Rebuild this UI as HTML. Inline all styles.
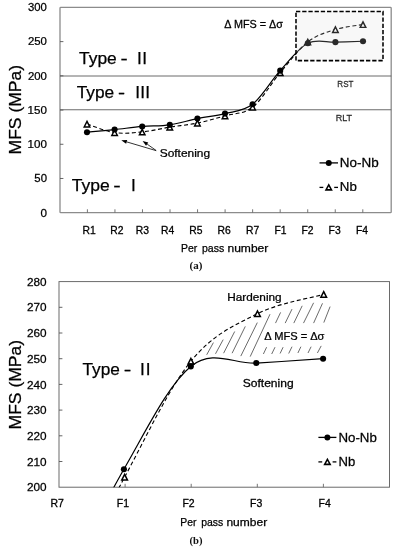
<!DOCTYPE html>
<html><head><meta charset="utf-8"><title>MFS per pass</title>
<style>html,body{margin:0;padding:0;background:#fff}svg{display:block}</style></head>
<body>
<svg width="394" height="550" viewBox="0 0 394 550">
<rect width="394" height="550" fill="#fff"/>
<rect x="60.00" y="7.40" width="331.20" height="205.30" rx="0.8" fill="none" stroke="#8c8c8c" stroke-width="1.3"/>
<line x1="60.00" y1="178.48" x2="63.40" y2="178.48" stroke="#555" stroke-width="0.9"/>
<line x1="60.00" y1="144.27" x2="63.40" y2="144.27" stroke="#555" stroke-width="0.9"/>
<line x1="60.00" y1="110.05" x2="63.40" y2="110.05" stroke="#555" stroke-width="0.9"/>
<line x1="60.00" y1="75.83" x2="63.40" y2="75.83" stroke="#555" stroke-width="0.9"/>
<line x1="60.00" y1="41.62" x2="63.40" y2="41.62" stroke="#555" stroke-width="0.9"/>
<line x1="87.40" y1="212.70" x2="87.40" y2="209.30" stroke="#666" stroke-width="0.9"/>
<line x1="114.94" y1="212.70" x2="114.94" y2="209.30" stroke="#666" stroke-width="0.9"/>
<line x1="142.48" y1="212.70" x2="142.48" y2="209.30" stroke="#666" stroke-width="0.9"/>
<line x1="170.02" y1="212.70" x2="170.02" y2="209.30" stroke="#666" stroke-width="0.9"/>
<line x1="197.56" y1="212.70" x2="197.56" y2="209.30" stroke="#666" stroke-width="0.9"/>
<line x1="225.10" y1="212.70" x2="225.10" y2="209.30" stroke="#666" stroke-width="0.9"/>
<line x1="252.64" y1="212.70" x2="252.64" y2="209.30" stroke="#666" stroke-width="0.9"/>
<line x1="280.18" y1="212.70" x2="280.18" y2="209.30" stroke="#666" stroke-width="0.9"/>
<line x1="307.72" y1="212.70" x2="307.72" y2="209.30" stroke="#666" stroke-width="0.9"/>
<line x1="335.26" y1="212.70" x2="335.26" y2="209.30" stroke="#666" stroke-width="0.9"/>
<line x1="362.80" y1="212.70" x2="362.80" y2="209.30" stroke="#666" stroke-width="0.9"/>
<text transform="translate(40.43 216.50) scale(1.0802 1)" font-family='"Liberation Sans", sans-serif' font-size="10.80" font-weight="normal" fill="#000" stroke="#000" stroke-width="0.25">0</text>
<text transform="translate(34.35 182.28) scale(1.0518 1)" font-family='"Liberation Sans", sans-serif' font-size="10.80" font-weight="normal" fill="#000" stroke="#000" stroke-width="0.25">50</text>
<text transform="translate(27.57 148.07) scale(1.0753 1)" font-family='"Liberation Sans", sans-serif' font-size="10.80" font-weight="normal" fill="#000" stroke="#000" stroke-width="0.25">100</text>
<text transform="translate(27.57 113.85) scale(1.0753 1)" font-family='"Liberation Sans", sans-serif' font-size="10.80" font-weight="normal" fill="#000" stroke="#000" stroke-width="0.25">150</text>
<text transform="translate(27.93 79.63) scale(1.0549 1)" font-family='"Liberation Sans", sans-serif' font-size="10.80" font-weight="normal" fill="#000" stroke="#000" stroke-width="0.25">200</text>
<text transform="translate(27.93 45.42) scale(1.0549 1)" font-family='"Liberation Sans", sans-serif' font-size="10.80" font-weight="normal" fill="#000" stroke="#000" stroke-width="0.25">250</text>
<text transform="translate(28.05 11.20) scale(1.0482 1)" font-family='"Liberation Sans", sans-serif' font-size="10.80" font-weight="normal" fill="#000" stroke="#000" stroke-width="0.25">300</text>
<text transform="translate(82.42 234.20) scale(0.9762 1)" font-family='"Liberation Sans", sans-serif' font-size="10.60" font-weight="normal" fill="#000" stroke="#000" stroke-width="0.30">R1</text>
<text transform="translate(110.22 234.20) scale(0.9762 1)" font-family='"Liberation Sans", sans-serif' font-size="10.60" font-weight="normal" fill="#000" stroke="#000" stroke-width="0.30">R2</text>
<text transform="translate(135.72 234.20) scale(0.9762 1)" font-family='"Liberation Sans", sans-serif' font-size="10.60" font-weight="normal" fill="#000" stroke="#000" stroke-width="0.30">R3</text>
<text transform="translate(161.12 234.20) scale(0.9762 1)" font-family='"Liberation Sans", sans-serif' font-size="10.60" font-weight="normal" fill="#000" stroke="#000" stroke-width="0.30">R4</text>
<text transform="translate(189.17 234.20) scale(0.9762 1)" font-family='"Liberation Sans", sans-serif' font-size="10.60" font-weight="normal" fill="#000" stroke="#000" stroke-width="0.30">R5</text>
<text transform="translate(217.62 234.20) scale(0.9762 1)" font-family='"Liberation Sans", sans-serif' font-size="10.60" font-weight="normal" fill="#000" stroke="#000" stroke-width="0.30">R6</text>
<text transform="translate(246.12 234.20) scale(0.9762 1)" font-family='"Liberation Sans", sans-serif' font-size="10.60" font-weight="normal" fill="#000" stroke="#000" stroke-width="0.30">R7</text>
<text transform="translate(274.39 234.20) scale(0.9762 1)" font-family='"Liberation Sans", sans-serif' font-size="10.60" font-weight="normal" fill="#000" stroke="#000" stroke-width="0.30">F1</text>
<text transform="translate(301.39 234.20) scale(0.9762 1)" font-family='"Liberation Sans", sans-serif' font-size="10.60" font-weight="normal" fill="#000" stroke="#000" stroke-width="0.30">F2</text>
<text transform="translate(328.59 234.20) scale(0.9762 1)" font-family='"Liberation Sans", sans-serif' font-size="10.60" font-weight="normal" fill="#000" stroke="#000" stroke-width="0.30">F3</text>
<text transform="translate(355.89 234.20) scale(0.9762 1)" font-family='"Liberation Sans", sans-serif' font-size="10.60" font-weight="normal" fill="#000" stroke="#000" stroke-width="0.30">F4</text>
<line x1="60.00" y1="76.00" x2="391.20" y2="76.00" stroke="#5a5a5a" stroke-width="0.9"/>
<line x1="60.00" y1="109.75" x2="391.20" y2="109.75" stroke="#5a5a5a" stroke-width="0.9"/>
<g transform="translate(20.5 153) rotate(-90)">
<text transform="translate(-1.40 0.00) scale(1.0119 1)" font-family='"Liberation Sans", sans-serif' font-size="17.30" font-weight="normal" fill="#000" stroke="#000" stroke-width="0.25">MFS (MPa)</text>
</g>
<text y="63.50" font-family='"Liberation Sans", sans-serif' font-size="17.30" fill="#000" stroke="#000" stroke-width="0.25"><tspan x="79.05" textLength="37.68" lengthAdjust="spacingAndGlyphs">Type</tspan> <tspan x="120.44" textLength="7.19" lengthAdjust="spacingAndGlyphs">-</tspan> <tspan x="136.94" letter-spacing="0.60">II</tspan></text>
<text y="98.00" font-family='"Liberation Sans", sans-serif' font-size="17.30" fill="#000" stroke="#000" stroke-width="0.25"><tspan x="76.65" textLength="37.48" lengthAdjust="spacingAndGlyphs">Type</tspan> <tspan x="117.95" textLength="7.06" lengthAdjust="spacingAndGlyphs">-</tspan> <tspan x="135.14" letter-spacing="0.23">III</tspan></text>
<text y="190.80" font-family='"Liberation Sans", sans-serif' font-size="17.30" fill="#000" stroke="#000" stroke-width="0.25"><tspan x="71.75" textLength="37.99" lengthAdjust="spacingAndGlyphs">Type</tspan> <tspan x="113.20" textLength="7.46" lengthAdjust="spacingAndGlyphs">-</tspan> <tspan x="130.94" letter-spacing="0.00">I</tspan></text>
<path d="M87.00 124.08 C91.60 125.50 105.40 131.32 114.60 132.63 C123.80 133.94 133.00 132.86 142.20 131.95 C151.40 131.04 160.60 128.64 169.80 127.16 C179.00 125.68 188.20 124.95 197.40 123.05 C206.60 121.16 215.80 118.44 225.00 115.80 C234.20 113.15 243.40 114.36 252.60 107.18 C261.80 99.99 271.00 83.57 280.20 72.69 C289.40 61.80 298.60 49.08 307.80 41.89 C317.00 34.70 326.20 32.47 335.40 29.57 C344.60 26.68 358.40 25.35 363.00 24.51" fill="none" stroke="#000" stroke-width="1.1" stroke-dasharray="4 2.6"/>
<path d="M87.00 121.43 L89.80 126.93 L84.20 126.93 Z" fill="#fff" stroke="#000" stroke-width="1.45" stroke-linejoin="miter"/>
<path d="M114.60 129.98 L117.40 135.48 L111.80 135.48 Z" fill="#fff" stroke="#000" stroke-width="1.45" stroke-linejoin="miter"/>
<path d="M142.20 129.30 L145.00 134.80 L139.40 134.80 Z" fill="#fff" stroke="#000" stroke-width="1.45" stroke-linejoin="miter"/>
<path d="M169.80 124.51 L172.60 130.01 L167.00 130.01 Z" fill="#fff" stroke="#000" stroke-width="1.45" stroke-linejoin="miter"/>
<path d="M197.40 120.40 L200.20 125.90 L194.60 125.90 Z" fill="#fff" stroke="#000" stroke-width="1.45" stroke-linejoin="miter"/>
<path d="M225.00 113.15 L227.80 118.65 L222.20 118.65 Z" fill="#fff" stroke="#000" stroke-width="1.45" stroke-linejoin="miter"/>
<path d="M252.60 104.53 L255.40 110.03 L249.80 110.03 Z" fill="#fff" stroke="#000" stroke-width="1.45" stroke-linejoin="miter"/>
<path d="M280.20 70.04 L283.00 75.54 L277.40 75.54 Z" fill="#fff" stroke="#000" stroke-width="1.45" stroke-linejoin="miter"/>
<path d="M307.80 39.24 L310.60 44.74 L305.00 44.74 Z" fill="#fff" stroke="#000" stroke-width="1.45" stroke-linejoin="miter"/>
<path d="M335.40 26.92 L338.20 32.42 L332.60 32.42 Z" fill="#fff" stroke="#000" stroke-width="1.45" stroke-linejoin="miter"/>
<path d="M363.00 21.86 L365.80 27.36 L360.20 27.36 Z" fill="#fff" stroke="#000" stroke-width="1.45" stroke-linejoin="miter"/>
<path d="M87.00 132.22 C91.60 131.78 105.40 130.51 114.60 129.55 C123.80 128.60 133.00 127.26 142.20 126.47 C151.40 125.69 160.60 126.14 169.80 124.83 C179.00 123.52 188.20 120.47 197.40 118.60 C206.60 116.73 215.80 116.00 225.00 113.61 C234.20 111.21 243.40 111.40 252.60 104.23 C261.80 97.07 271.00 80.79 280.20 70.63 C289.40 60.47 298.60 48.00 307.80 43.26 C317.00 38.51 326.20 42.49 335.40 42.16 C344.60 41.83 358.40 41.42 363.00 41.27" fill="none" stroke="#000" stroke-width="1.2"/>
<circle cx="87.00" cy="132.22" r="3.05" fill="#000"/>
<circle cx="114.60" cy="129.55" r="3.05" fill="#000"/>
<circle cx="142.20" cy="126.47" r="3.05" fill="#000"/>
<circle cx="169.80" cy="124.83" r="3.05" fill="#000"/>
<circle cx="197.40" cy="118.60" r="3.05" fill="#000"/>
<circle cx="225.00" cy="113.61" r="3.05" fill="#000"/>
<circle cx="252.60" cy="104.23" r="3.05" fill="#000"/>
<circle cx="280.20" cy="70.63" r="3.05" fill="#000"/>
<circle cx="307.80" cy="43.26" r="3.05" fill="#000"/>
<circle cx="335.40" cy="42.16" r="3.05" fill="#000"/>
<circle cx="363.00" cy="41.27" r="3.05" fill="#000"/>
<rect x="296.0" y="11.5" width="87.0" height="49.1" fill="rgba(216,216,216,0.19)" stroke="#000" stroke-width="1.55" stroke-dasharray="4.3 1.9"/>
<text transform="translate(224.28 27.90) scale(1.0206 1)" font-family='"Liberation Sans", sans-serif' font-size="10.60" font-weight="normal" fill="#000" stroke="#000" stroke-width="0.25">&#916; MFS = &#916;&#963;</text>
<text transform="translate(337.36 86.60) scale(0.8567 1)" font-family='"Liberation Sans", sans-serif' font-size="9.40" font-weight="normal" fill="#2a2a2a" stroke="#2a2a2a" stroke-width="0.25">RST</text>
<text transform="translate(335.78 121.40) scale(0.9581 1)" font-family='"Liberation Sans", sans-serif' font-size="9.40" font-weight="normal" fill="#2a2a2a" stroke="#2a2a2a" stroke-width="0.25">RLT</text>
<text transform="translate(159.70 157.40) scale(1.1062 1)" font-family='"Liberation Sans", sans-serif' font-size="10.80" font-weight="normal" fill="#000" stroke="#000" stroke-width="0.25">Softening</text>
<line x1="156.00" y1="150.60" x2="126.67" y2="141.89" stroke="#000" stroke-width="0.80"/>
<path d="M121.30 140.30 L127.21 140.07 L126.13 143.71 Z" fill="#000"/>
<line x1="156.30" y1="150.60" x2="147.17" y2="144.14" stroke="#000" stroke-width="0.80"/>
<path d="M142.60 140.90 L148.27 142.59 L146.07 145.69 Z" fill="#000"/>
<line x1="319.50" y1="162.90" x2="338.00" y2="162.90" stroke="#000" stroke-width="1.3"/>
<circle cx="328.75" cy="162.90" r="3.00" fill="#000"/>
<line x1="319.50" y1="187.40" x2="323.30" y2="187.40" stroke="#000" stroke-width="1.3"/>
<line x1="334.20" y1="187.40" x2="338.00" y2="187.40" stroke="#000" stroke-width="1.3"/>
<path d="M328.75 184.95 L331.50 189.85 L326.00 189.85 Z" fill="#fff" stroke="#000" stroke-width="1.55" stroke-linejoin="miter"/>
<text transform="translate(339.82 167.00) scale(1.0520 1)" font-family='"Liberation Sans", sans-serif' font-size="12.80" font-weight="normal" fill="#000" stroke="#000" stroke-width="0.25">No-Nb</text>
<text transform="translate(339.84 191.00) scale(1.0372 1)" font-family='"Liberation Sans", sans-serif' font-size="12.80" font-weight="normal" fill="#000" stroke="#000" stroke-width="0.25">Nb</text>
<text transform="translate(189.56 269.40) scale(1.0395 1)" font-family='"Liberation Serif", serif' font-size="10.60" font-weight="bold" fill="#111">(a)</text>
<text y="252.00" font-family='"Liberation Sans", sans-serif' font-size="10.90" fill="#000" stroke="#000" stroke-width="0.25"><tspan x="180.97" textLength="16.20" lengthAdjust="spacingAndGlyphs">Per</tspan> <tspan x="201.96" textLength="22.28" lengthAdjust="spacingAndGlyphs">pass</tspan> <tspan x="227.46" textLength="40.89" lengthAdjust="spacingAndGlyphs">number</tspan></text>
<rect x="59.00" y="281.60" width="330.50" height="205.60" fill="none" stroke="#636363" stroke-width="0.95"/>
<line x1="59.00" y1="461.50" x2="62.40" y2="461.50" stroke="#555" stroke-width="0.9"/>
<line x1="59.00" y1="435.80" x2="62.40" y2="435.80" stroke="#555" stroke-width="0.9"/>
<line x1="59.00" y1="410.10" x2="62.40" y2="410.10" stroke="#555" stroke-width="0.9"/>
<line x1="59.00" y1="384.40" x2="62.40" y2="384.40" stroke="#555" stroke-width="0.9"/>
<line x1="59.00" y1="358.70" x2="62.40" y2="358.70" stroke="#555" stroke-width="0.9"/>
<line x1="59.00" y1="333.00" x2="62.40" y2="333.00" stroke="#555" stroke-width="0.9"/>
<line x1="59.00" y1="307.30" x2="62.40" y2="307.30" stroke="#555" stroke-width="0.9"/>
<line x1="125.10" y1="487.20" x2="125.10" y2="483.80" stroke="#666" stroke-width="0.9"/>
<line x1="191.20" y1="487.20" x2="191.20" y2="483.80" stroke="#666" stroke-width="0.9"/>
<line x1="257.30" y1="487.20" x2="257.30" y2="483.80" stroke="#666" stroke-width="0.9"/>
<line x1="323.40" y1="487.20" x2="323.40" y2="483.80" stroke="#666" stroke-width="0.9"/>
<text transform="translate(26.91 491.30) scale(1.0900 1)" font-family='"Liberation Sans", sans-serif' font-size="10.80" font-weight="normal" fill="#000" stroke="#000" stroke-width="0.25">200</text>
<text transform="translate(26.91 465.60) scale(1.0900 1)" font-family='"Liberation Sans", sans-serif' font-size="10.80" font-weight="normal" fill="#000" stroke="#000" stroke-width="0.25">210</text>
<text transform="translate(26.91 439.90) scale(1.0900 1)" font-family='"Liberation Sans", sans-serif' font-size="10.80" font-weight="normal" fill="#000" stroke="#000" stroke-width="0.25">220</text>
<text transform="translate(26.91 414.20) scale(1.0900 1)" font-family='"Liberation Sans", sans-serif' font-size="10.80" font-weight="normal" fill="#000" stroke="#000" stroke-width="0.25">230</text>
<text transform="translate(26.91 388.50) scale(1.0900 1)" font-family='"Liberation Sans", sans-serif' font-size="10.80" font-weight="normal" fill="#000" stroke="#000" stroke-width="0.25">240</text>
<text transform="translate(26.91 362.80) scale(1.0900 1)" font-family='"Liberation Sans", sans-serif' font-size="10.80" font-weight="normal" fill="#000" stroke="#000" stroke-width="0.25">250</text>
<text transform="translate(26.91 337.10) scale(1.0900 1)" font-family='"Liberation Sans", sans-serif' font-size="10.80" font-weight="normal" fill="#000" stroke="#000" stroke-width="0.25">260</text>
<text transform="translate(26.91 311.40) scale(1.0900 1)" font-family='"Liberation Sans", sans-serif' font-size="10.80" font-weight="normal" fill="#000" stroke="#000" stroke-width="0.25">270</text>
<text transform="translate(26.91 285.70) scale(1.0900 1)" font-family='"Liberation Sans", sans-serif' font-size="10.80" font-weight="normal" fill="#000" stroke="#000" stroke-width="0.25">280</text>
<text transform="translate(50.44 506.90) scale(0.9888 1)" font-family='"Liberation Sans", sans-serif' font-size="10.60" font-weight="normal" fill="#000" stroke="#000" stroke-width="0.30">R7</text>
<text transform="translate(116.81 506.90) scale(0.9888 1)" font-family='"Liberation Sans", sans-serif' font-size="10.60" font-weight="normal" fill="#000" stroke="#000" stroke-width="0.30">F1</text>
<text transform="translate(182.41 506.90) scale(0.9888 1)" font-family='"Liberation Sans", sans-serif' font-size="10.60" font-weight="normal" fill="#000" stroke="#000" stroke-width="0.30">F2</text>
<text transform="translate(250.11 506.90) scale(0.9888 1)" font-family='"Liberation Sans", sans-serif' font-size="10.60" font-weight="normal" fill="#000" stroke="#000" stroke-width="0.30">F3</text>
<text transform="translate(318.61 506.90) scale(0.9888 1)" font-family='"Liberation Sans", sans-serif' font-size="10.60" font-weight="normal" fill="#000" stroke="#000" stroke-width="0.30">F4</text>
<g transform="translate(20.5 428) rotate(-90)">
<text transform="translate(-1.40 0.00) scale(1.0119 1)" font-family='"Liberation Sans", sans-serif' font-size="17.30" font-weight="normal" fill="#000" stroke="#000" stroke-width="0.25">MFS (MPa)</text>
</g>
<clipPath id="cb"><rect x="59.00" y="281.60" width="330.50" height="205.60"/></clipPath>
<line x1="206.70" y1="354.80" x2="213.40" y2="342.60" stroke="#3a3a3a" stroke-width="0.75"/>
<line x1="215.50" y1="353.80" x2="223.20" y2="339.60" stroke="#3a3a3a" stroke-width="0.75"/>
<line x1="223.60" y1="353.20" x2="234.70" y2="331.50" stroke="#3a3a3a" stroke-width="0.75"/>
<line x1="232.10" y1="353.20" x2="245.30" y2="326.40" stroke="#3a3a3a" stroke-width="0.75"/>
<line x1="240.80" y1="356.10" x2="257.30" y2="322.60" stroke="#3a3a3a" stroke-width="0.75"/>
<line x1="250.20" y1="356.60" x2="270.00" y2="314.20" stroke="#3a3a3a" stroke-width="0.75"/>
<line x1="275.50" y1="323.10" x2="280.60" y2="312.40" stroke="#3a3a3a" stroke-width="0.75"/>
<line x1="285.20" y1="323.10" x2="292.00" y2="309.10" stroke="#3a3a3a" stroke-width="0.75"/>
<line x1="293.80" y1="323.10" x2="302.20" y2="305.80" stroke="#3a3a3a" stroke-width="0.75"/>
<line x1="303.50" y1="323.10" x2="313.60" y2="302.80" stroke="#3a3a3a" stroke-width="0.75"/>
<line x1="313.60" y1="323.10" x2="322.50" y2="303.30" stroke="#3a3a3a" stroke-width="0.75"/>
<line x1="323.80" y1="322.60" x2="330.10" y2="306.60" stroke="#3a3a3a" stroke-width="0.75"/>
<line x1="263.40" y1="354.00" x2="266.60" y2="347.20" stroke="#3a3a3a" stroke-width="0.75"/>
<line x1="271.70" y1="354.00" x2="275.00" y2="347.20" stroke="#3a3a3a" stroke-width="0.75"/>
<line x1="280.10" y1="353.50" x2="283.10" y2="347.20" stroke="#3a3a3a" stroke-width="0.75"/>
<line x1="288.70" y1="353.50" x2="292.00" y2="346.70" stroke="#3a3a3a" stroke-width="0.75"/>
<line x1="297.90" y1="353.00" x2="300.90" y2="346.70" stroke="#3a3a3a" stroke-width="0.75"/>
<line x1="308.00" y1="353.00" x2="311.10" y2="346.70" stroke="#3a3a3a" stroke-width="0.75"/>
<line x1="317.40" y1="353.00" x2="321.20" y2="345.90" stroke="#3a3a3a" stroke-width="0.75"/>
<g clip-path="url(#cb)">
<path d="M59.30 606.45 C70.18 584.90 102.67 518.04 124.60 477.18 C146.53 436.31 168.75 388.51 190.90 361.27 C213.05 334.03 235.37 324.86 257.50 313.73 C279.63 302.59 312.67 297.66 323.70 294.45" fill="none" stroke="#000" stroke-width="1.1" stroke-dasharray="4 2.6"/>
<path d="M58.60 595.14 C69.48 574.15 101.87 507.33 123.90 469.21 C145.93 431.09 168.73 384.10 190.80 366.41 C212.87 348.72 234.25 364.35 256.30 363.07 C278.35 361.78 311.97 359.43 323.10 358.70" fill="none" stroke="#000" stroke-width="1.2"/>
</g>
<path d="M124.60 474.43 L127.40 479.93 L121.80 479.93 Z" fill="#fff" stroke="#000" stroke-width="1.55" stroke-linejoin="miter"/>
<path d="M190.90 358.52 L193.70 364.02 L188.10 364.02 Z" fill="#fff" stroke="#000" stroke-width="1.55" stroke-linejoin="miter"/>
<path d="M257.50 310.98 L260.30 316.48 L254.70 316.48 Z" fill="#fff" stroke="#000" stroke-width="1.55" stroke-linejoin="miter"/>
<path d="M323.70 291.70 L326.50 297.20 L320.90 297.20 Z" fill="#fff" stroke="#000" stroke-width="1.55" stroke-linejoin="miter"/>
<circle cx="123.90" cy="469.21" r="3.05" fill="#000"/>
<circle cx="190.80" cy="366.41" r="3.05" fill="#000"/>
<circle cx="256.30" cy="363.07" r="3.05" fill="#000"/>
<circle cx="323.10" cy="358.70" r="3.05" fill="#000"/>
<text y="375.30" font-family='"Liberation Sans", sans-serif' font-size="17.30" fill="#000" stroke="#000" stroke-width="0.25"><tspan x="82.46" textLength="37.37" lengthAdjust="spacingAndGlyphs">Type</tspan> <tspan x="123.89" textLength="7.59" lengthAdjust="spacingAndGlyphs">-</tspan> <tspan x="140.04" letter-spacing="0.80">II</tspan></text>
<text transform="translate(227.26 300.70) scale(1.1018 1)" font-family='"Liberation Sans", sans-serif' font-size="10.70" font-weight="normal" fill="#000" stroke="#000" stroke-width="0.25">Hardening</text>
<text transform="translate(242.70 386.70) scale(1.1385 1)" font-family='"Liberation Sans", sans-serif' font-size="10.60" font-weight="normal" fill="#000" stroke="#000" stroke-width="0.25">Softening</text>
<text transform="translate(264.27 339.60) scale(1.0469 1)" font-family='"Liberation Sans", sans-serif' font-size="10.60" font-weight="normal" fill="#000" stroke="#000" stroke-width="0.25">&#916; MFS = &#916;&#963;</text>
<line x1="318.40" y1="437.40" x2="336.40" y2="437.40" stroke="#000" stroke-width="1.3"/>
<circle cx="327.40" cy="437.40" r="3.00" fill="#000"/>
<line x1="318.40" y1="461.90" x2="322.20" y2="461.90" stroke="#000" stroke-width="1.3"/>
<line x1="332.60" y1="461.90" x2="336.40" y2="461.90" stroke="#000" stroke-width="1.3"/>
<path d="M327.40 459.45 L330.15 464.35 L324.65 464.35 Z" fill="#fff" stroke="#000" stroke-width="1.55" stroke-linejoin="miter"/>
<text transform="translate(338.44 441.50) scale(1.0379 1)" font-family='"Liberation Sans", sans-serif' font-size="12.80" font-weight="normal" fill="#000" stroke="#000" stroke-width="0.25">No-Nb</text>
<text transform="translate(338.45 465.90) scale(1.0237 1)" font-family='"Liberation Sans", sans-serif' font-size="12.80" font-weight="normal" fill="#000" stroke="#000" stroke-width="0.25">Nb</text>
<text y="525.80" font-family='"Liberation Sans", sans-serif' font-size="10.90" fill="#000" stroke="#000" stroke-width="0.25"><tspan x="180.37" textLength="16.09" lengthAdjust="spacingAndGlyphs">Per</tspan> <tspan x="201.17" textLength="22.07" lengthAdjust="spacingAndGlyphs">pass</tspan> <tspan x="226.46" textLength="40.69" lengthAdjust="spacingAndGlyphs">number</tspan></text>
<text transform="translate(189.48 543.70) scale(1.0013 1)" font-family='"Liberation Serif", serif' font-size="10.60" font-weight="bold" fill="#111">(b)</text>
</svg>
</body></html>
